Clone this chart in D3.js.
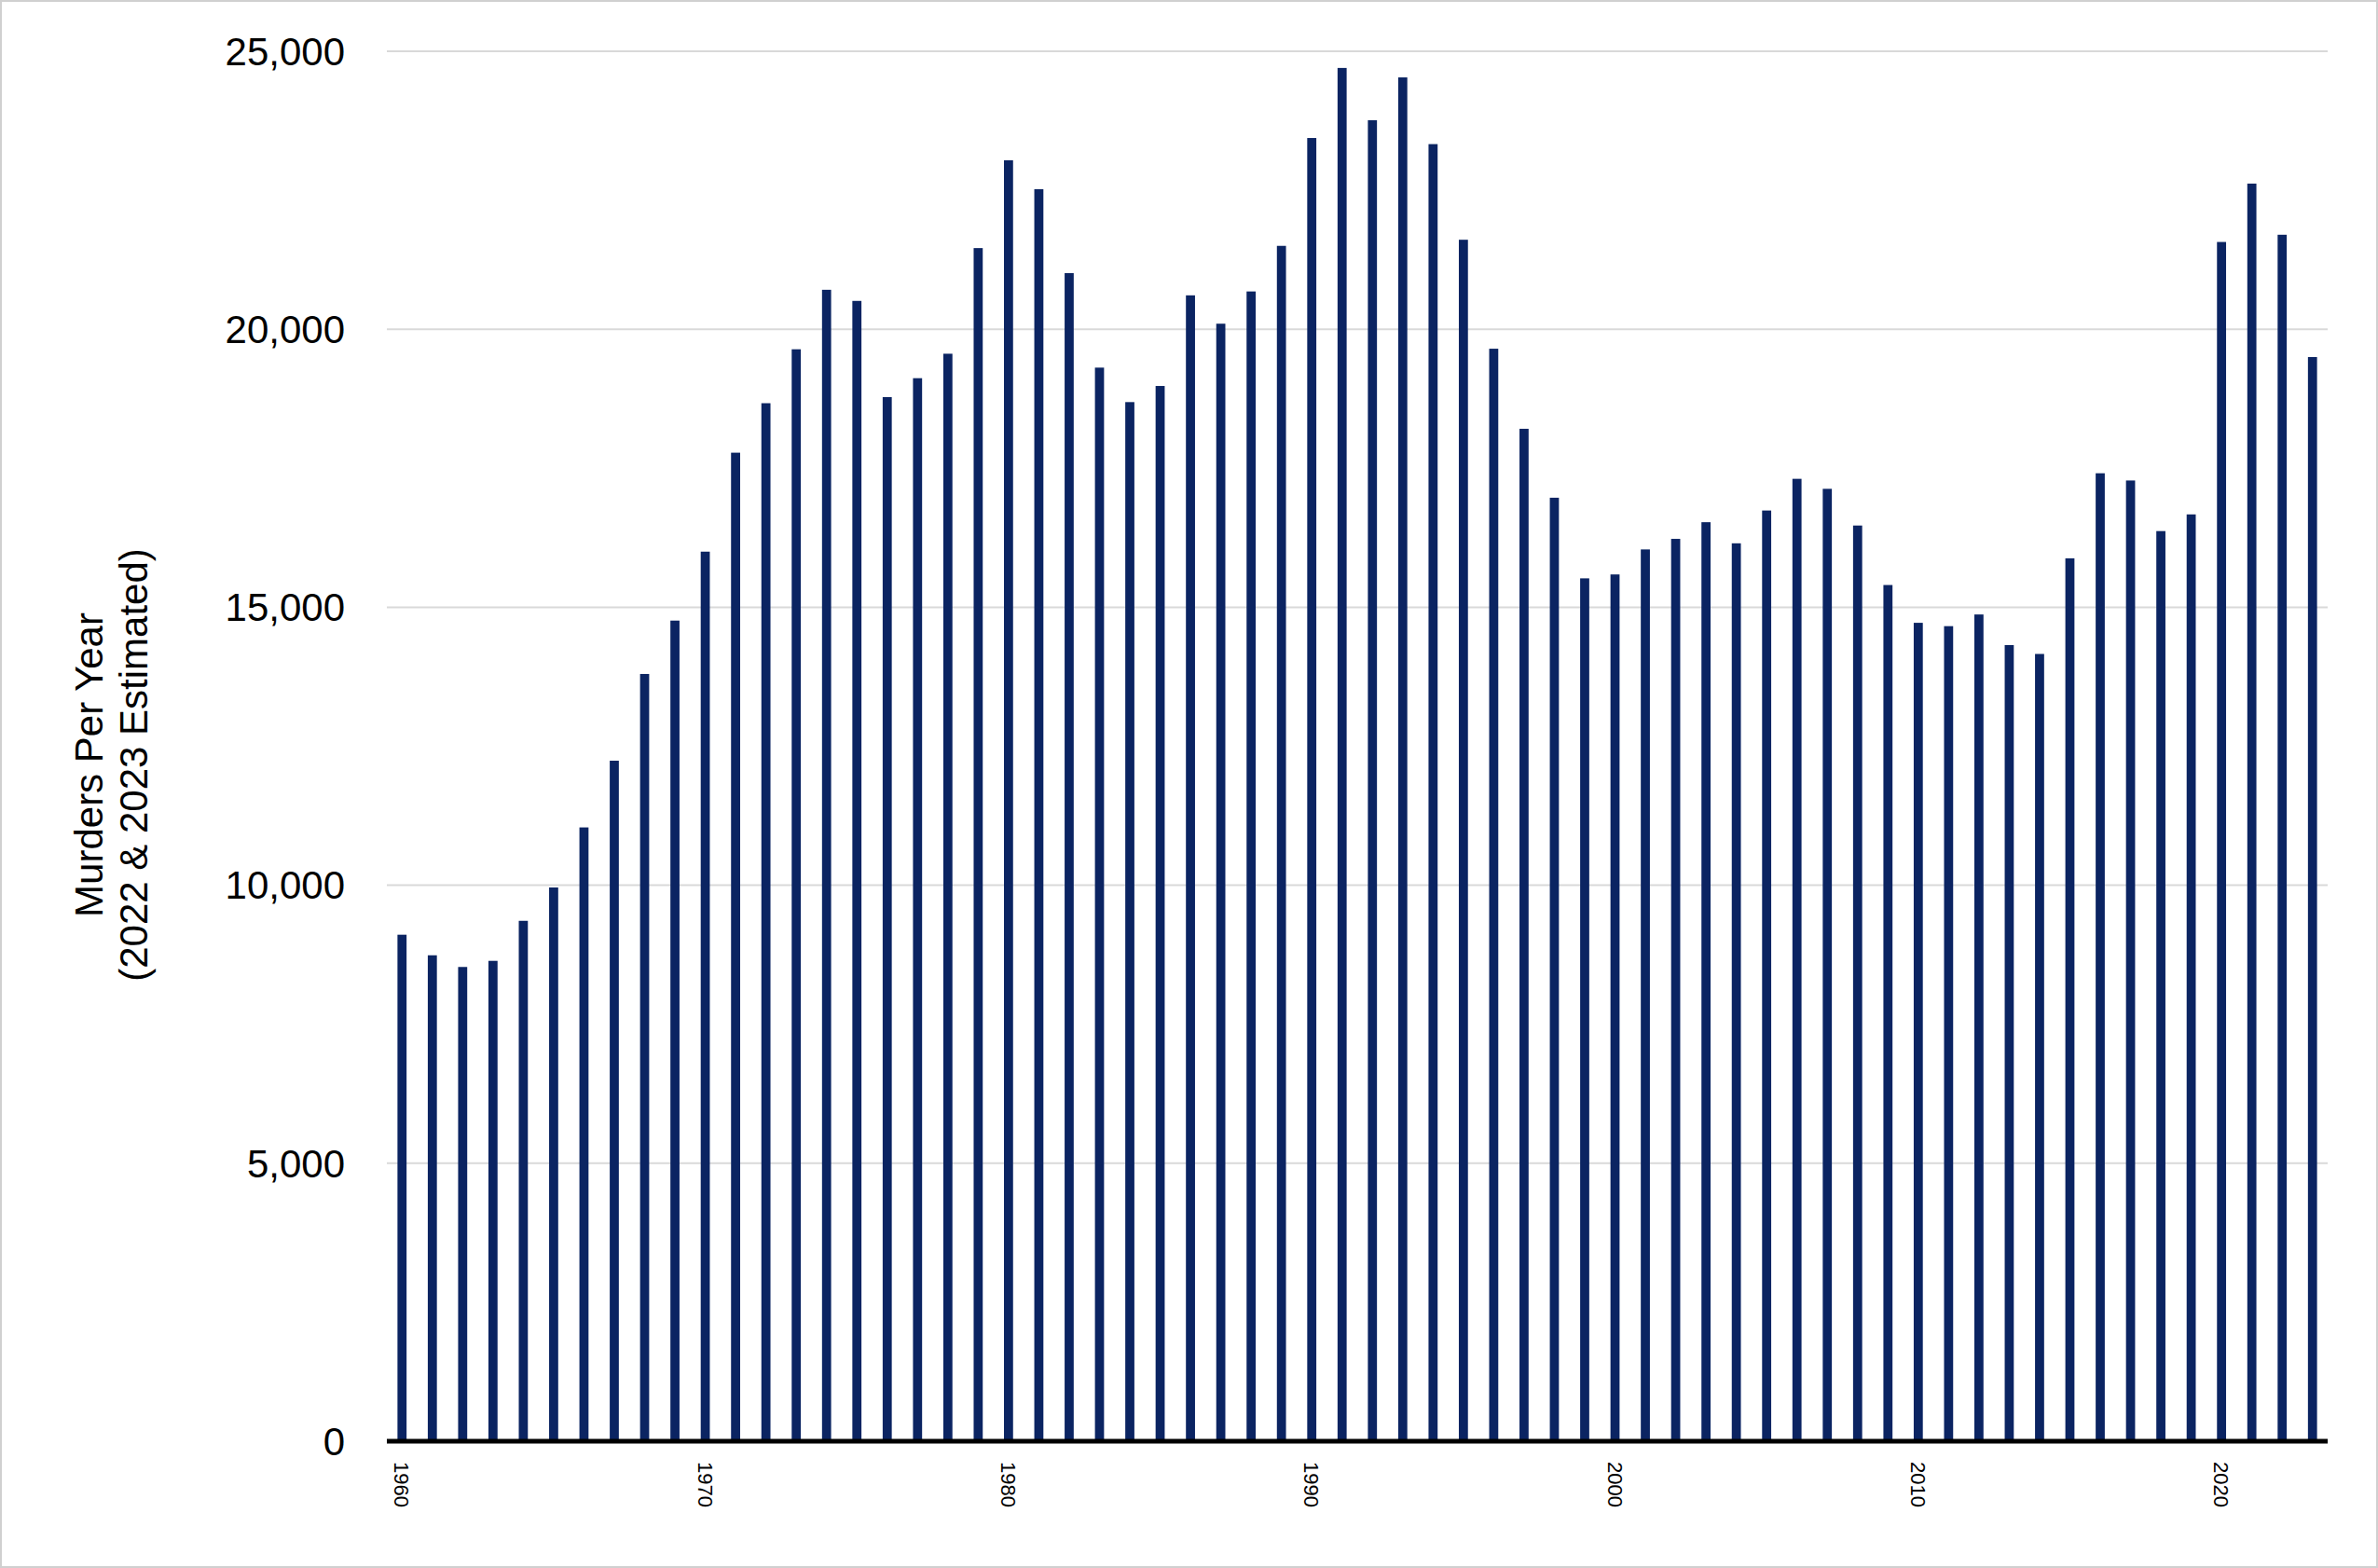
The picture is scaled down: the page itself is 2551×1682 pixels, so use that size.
<!DOCTYPE html>
<html><head><meta charset="utf-8">
<script src="https://cdn.jsdelivr.net/npm/d3@7"></script>
<style>body{margin:0;background:#fff}</style>
</head><body>
<script>
var years = d3.range(1960, 2024);
var murders = [9110,8740,8530,8640,9360,9960,11040,12240,13800,14760,
  16000,17780,18670,19640,20710,20510,18780,19120,19560,21460,
  23040,22520,21010,19310,18690,18980,20610,20100,20680,21500,
  23440,24700,23760,24530,23330,21610,19650,18210,16970,15520,
  15590,16040,16230,16530,16150,16740,17310,17130,16470,15400,
  14720,14660,14870,14320,14160,15880,17410,17280,16370,16670,
  21570,22620,21700,19500];
var yTicks = [0,5000,10000,15000,20000,25000];
var labelYears = [1960,1970,1980,1990,2000,2010,2020];

var W = 2551, H = 1682;
var m = {left:415, right:2497, top:55, bottom:1546};

var svg = d3.select("body").append("svg").attr("width",W).attr("height",H);
svg.append("rect").attr("x",1).attr("y",1).attr("width",W-2).attr("height",H-2)
  .attr("fill","#fff").attr("stroke","#d0d0d0").attr("stroke-width",2);

var x = d3.scaleBand().domain(years).range([m.left,m.right]).paddingInner(0.7).paddingOuter(0.35);
var y = d3.scaleLinear().domain([0,25000]).range([m.bottom,m.top]);

svg.selectAll(".grid").data(yTicks.slice(1)).enter().append("line")
  .attr("x1",m.left).attr("x2",m.right)
  .attr("y1",function(d){return y(d)}).attr("y2",function(d){return y(d)})
  .attr("stroke","#d9d9d9").attr("stroke-width",2);

svg.selectAll(".ytl").data(yTicks).enter().append("text")
  .attr("x",m.left-45).attr("y",function(d){return y(d)})
  .attr("dy","0.35em").attr("text-anchor","end")
  .style("font-family","Liberation Sans, Arial").style("font-size","42px")
  .text(d3.format(","));

svg.selectAll(".bar").data(murders).enter().append("rect")
  .attr("x",function(d,i){return x(years[i])})
  .attr("width",x.bandwidth())
  .attr("y",function(d){return y(d)})
  .attr("height",function(d){return m.bottom-y(d)})
  .attr("fill","#0b2462");

svg.append("line").attr("x1",m.left).attr("x2",m.right)
  .attr("y1",m.bottom).attr("y2",m.bottom).attr("stroke","#000").attr("stroke-width",5);

svg.selectAll(".xtl").data(labelYears).enter().append("text")
  .attr("transform",function(d){return "translate("+(x(d)+x.bandwidth()/2-8)+","+(m.bottom+22)+") rotate(90)"})
  .attr("dy","0")
  .style("font-family","Liberation Sans, Arial").style("font-size","22px")
  .text(function(d){return d});

var t = svg.append("text")
  .attr("transform","translate(110,"+((m.top+m.bottom)/2+20)+") rotate(-90)")
  .attr("text-anchor","middle")
  .style("font-family","Liberation Sans, Arial").style("font-size","42px");
t.append("tspan").attr("x",0).attr("dy",0).text("Murders Per Year");
t.append("tspan").attr("x",0).attr("dy","1.15em").text("(2022 & 2023 Estimated)");
</script>
</body></html>
